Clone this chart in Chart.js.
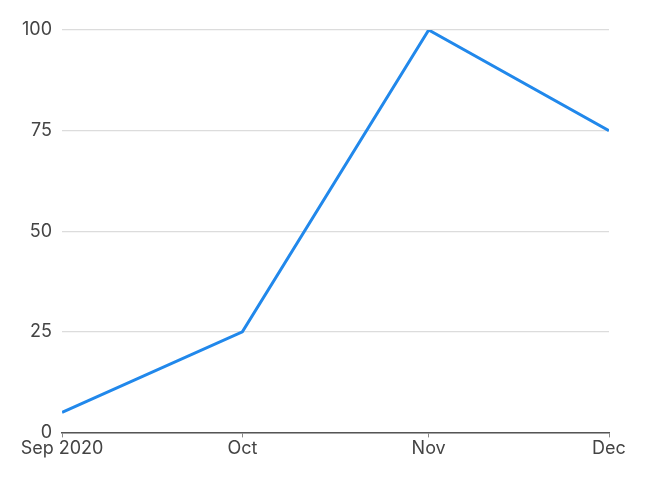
<!DOCTYPE html>
<html>
<head>
<meta charset="utf-8">
<script src="https://cdn.jsdelivr.net/npm/chart.js@4"></script>
<style>
  html, body { margin: 0; padding: 0; background: #fff; }
  #wrap { width: 654px; height: 488px; }
</style>
</head>
<body>
<div id="wrap"><canvas id="chart"></canvas></div>
<script>
// days since 1 Sep 2020
var dayOffsets = [0, 30, 61, 91];
var monthLabels = ["Sep 2020", "Oct", "Nov", "Dec"];
var values = [5, 25, 100, 75];
var yTicks = [0, 25, 50, 75, 100];

var points = dayOffsets.map(function (d, i) { return { x: d, y: values[i] }; });

Chart.defaults.font.family = 'Inter, "Open Sans", sans-serif';
Chart.defaults.font.size = 18;
Chart.defaults.color = "#444";

new Chart(document.getElementById("chart").getContext("2d"), {
  type: "line",
  data: {
    datasets: [{
      data: points,
      borderColor: "#2188eb",
      borderWidth: 3,
      pointRadius: 0,
      tension: 0,
      fill: false
    }]
  },
  options: {
    responsive: true,
    maintainAspectRatio: false,
    animation: false,
    layout: { padding: { left: 12, right: 45, top: 30, bottom: 29 } },
    plugins: { legend: { display: false }, tooltip: { enabled: false } },
    scales: {
      x: {
        type: "linear",
        min: dayOffsets[0],
        max: dayOffsets[dayOffsets.length - 1],
        afterBuildTicks: function (axis) {
          axis.ticks = dayOffsets.map(function (d) { return { value: d }; });
        },
        ticks: {
          autoSkip: false,
          maxRotation: 0,
          padding: 0,
          callback: function (v) {
            var i = dayOffsets.indexOf(v);
            return i >= 0 ? monthLabels[i] : "";
          }
        },
        grid: { drawOnChartArea: false, drawTicks: true, tickLength: 5, tickColor: "#888" },
        border: { display: true, color: "#555", width: 1.5 }
      },
      y: {
        min: 0,
        max: 100,
        afterBuildTicks: function (axis) {
          axis.ticks = yTicks.map(function (v) { return { value: v }; });
        },
        ticks: { padding: 10 },
        grid: { color: "#dcdcdc", lineWidth: 1.2, drawTicks: false },
        border: { display: false }
      }
    }
  }
});
</script>
</body>
</html>
